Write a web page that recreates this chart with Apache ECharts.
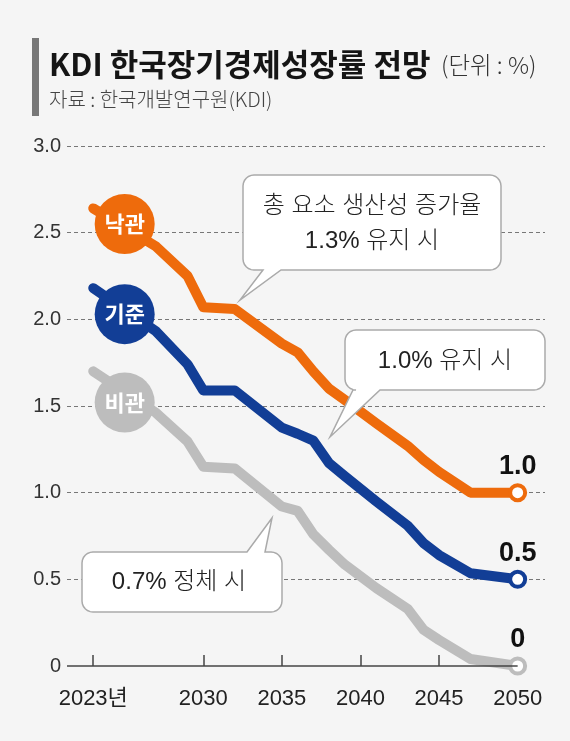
<!DOCTYPE html>
<html>
<head>
<meta charset="utf-8">
<script src="https://cdn.jsdelivr.net/npm/echarts@6/dist/echarts.min.js"></script>
<style>
html,body{margin:0;padding:0;background:#f5f5f5;}
#c{width:570px;height:741px;}
</style>
</head>
<body>
<div id="c"></div>
<script>
// ---- data ----
const years = [2023, 2027, 2029, 2030, 2032, 2035, 2036, 2037, 2038, 2039, 2041, 2043, 2044, 2045, 2047, 2050];
const optimistic  = [2.64, 2.42, 2.25, 2.07, 2.06, 1.86, 1.81, 1.70, 1.60, 1.535, 1.40, 1.27, 1.19, 1.12, 1.00, 1.00];
const baseline    = [2.18, 1.93, 1.74, 1.59, 1.59, 1.375, 1.34, 1.30, 1.17, 1.095, 0.95, 0.81, 0.71, 0.64, 0.535, 0.50];
const pessimistic = [1.70, 1.46, 1.295, 1.15, 1.14, 0.92, 0.895, 0.76, 0.67, 0.585, 0.45, 0.33, 0.21, 0.15, 0.04, 0.00];
const scenarioNames = ['낙관', '기준', '비관'];
const bubbleYear = 2025;
const bubbleValues = [2.55, 2.03, 1.52];
const endLabels = ['1.0', '0.5', '0'];
const xTickValues = [2023, 2030, 2035, 2040, 2045, 2050];
const xTickLabels = ['2023년', '2030', '2035', '2040', '2045', '2050'];
const yTickLabels = ['0', '0.5', '1.0', '1.5', '2.0', '2.5', '3.0'];
const titleText = 'KDI 한국장기경제성장률 전망';
const unitText = '(단위 : %)';
const sourceText = '자료 : 한국개발연구원(KDI)';
const calloutTexts = ['총 요소 생산성 증가율\n1.3% 유지 시', '1.0% 유지 시', '0.7% 정체 시'];

// ---- style ----
const colors = ['#EE6B0C', '#123E96', '#BDBDBD'];
const NARROW = "'Liberation Sans Narrow','Liberation Sans','Noto Sans CJK KR',sans-serif";
const CJK = "'Noto Sans CJK KR','Noto Sans',sans-serif";
const XMIN = 2021.33, XMAX = 2051.74;

function lineSeries(vals, idx) {
  const last = years.length - 1;
  return {
    type: 'line',
    z: 3,
    symbol: 'none',
    showSymbol: true,
    lineStyle: { width: 10, color: colors[idx], cap: 'round', join: 'round' },
    itemStyle: { color: colors[idx] },
    data: years.map((y, i) => i === last ? {
      value: [y, vals[i]],
      symbol: 'circle',
      symbolSize: 15,
      itemStyle: { color: '#fff', borderColor: colors[idx], borderWidth: 4 },
      label: {
        show: true, position: 'top', distance: 3,
        formatter: endLabels[idx],
        fontSize: 27, fontWeight: 'bold', color: '#111',
        fontFamily: "'Liberation Sans',sans-serif"
      }
    } : [y, vals[i]])
  };
}

// rounded box with a pointer tail, as polygon points
function corner(pts, cx, cy, r, a0, a1) {
  const n = 6;
  for (let k = 0; k <= n; k++) {
    const a = a0 + (a1 - a0) * k / n;
    pts.push([cx + r * Math.cos(a), cy + r * Math.sin(a)]);
  }
}
function calloutPoints(x0, y0, x1, y1, r, side, ta, tb, tx, ty) {
  const P = Math.PI, pts = [];
  corner(pts, x0 + r, y0 + r, r, P, 1.5 * P);
  if (side === 'top') { pts.push([ta, y0], [tx, ty], [tb, y0]); }
  corner(pts, x1 - r, y0 + r, r, 1.5 * P, 2 * P);
  corner(pts, x1 - r, y1 - r, r, 0, 0.5 * P);
  if (side === 'bottom') { pts.push([tb, y1], [tx, ty], [ta, y1]); }
  corner(pts, x0 + r, y1 - r, r, 0.5 * P, P);
  return pts;
}

const callouts = [
  { box: [243, 175, 501, 270], side: 'bottom', tail: [263, 281, 240, 300], text: [372, 224] },
  { box: [345, 330, 545, 390], side: 'bottom', tail: [353, 380, 330, 437], text: [445, 361] },
  { box: [82, 552, 282, 612], side: 'top', tail: [247, 265, 272, 518], text: [179, 582] }
];

const graphics = [
  { type: 'rect', shape: { x: 32, y: 38, width: 7, height: 78 }, style: { fill: '#777' } },
  { type: 'text', x: 49, y: 64, style: { text: titleText, fontSize: 31, fontWeight: 'bold', fontFamily: CJK, fill: '#151515', verticalAlign: 'middle', textVerticalAlign: 'middle' } },
  { type: 'text', x: 441, y: 65, style: { text: unitText, fontSize: 23.5, fontWeight: 300, fontFamily: CJK, fill: '#333', verticalAlign: 'middle', textVerticalAlign: 'middle' } },
  { type: 'text', x: 49, y: 99, style: { text: sourceText, fontSize: 20, fontWeight: 300, fontFamily: CJK, fill: '#444', verticalAlign: 'middle', textVerticalAlign: 'middle' } }
];
callouts.forEach((c, i) => {
  const [x0, y0, x1, y1] = c.box;
  graphics.push({
    type: 'polygon', z: 100,
    shape: { points: calloutPoints(x0, y0, x1, y1, 11, c.side, c.tail[0], c.tail[1], c.tail[2], c.tail[3]) },
    style: { fill: '#fff', stroke: '#aaa', lineWidth: 1.5 }
  });
  graphics.push({
    type: 'text', z: 101, x: c.text[0], y: c.text[1],
    style: {
      text: calloutTexts[i], fontSize: 24, fontWeight: 300, fontFamily: NARROW, fill: '#222',
      lineHeight: 35, align: 'center', textAlign: 'center', verticalAlign: 'middle', textVerticalAlign: 'middle'
    }
  });
});

const chart = echarts.init(document.getElementById('c'));
chart.setOption({
  backgroundColor: '#f5f5f5',
  animation: false,
  grid: { left: 67, right: 25, top: 146, bottom: 75 },
  xAxis: {
    type: 'value', min: XMIN, max: XMAX,
    axisLine: { show: false },
    splitLine: { show: false },
    axisTick: { show: true, inside: true, length: 11, customValues: xTickValues.slice(0, 5), lineStyle: { color: '#444', width: 1.5 } },
    axisLabel: {
      customValues: xTickValues, margin: 22,
      formatter: v => { const k = xTickValues.indexOf(Math.round(v)); return k >= 0 ? xTickLabels[k] : ''; },
      fontSize: 22, color: '#222', fontFamily: NARROW
    }
  },
  yAxis: {
    type: 'value', min: 0, max: 3, interval: 0.5,
    axisLine: { show: false },
    axisTick: { show: false },
    splitLine: { show: true, showMinLine: false, lineStyle: { color: '#777', width: 1, type: [4, 3] } },
    axisLabel: {
      margin: 6, fontSize: 20, color: '#333', fontFamily: NARROW,
      formatter: v => yTickLabels[Math.round(v / 0.5)]
    }
  },
  graphic: graphics,
  series: [
    {
      type: 'line', z: 1, data: [], silent: true,
      markLine: {
        silent: true, symbol: 'none', label: { show: false },
        lineStyle: { color: '#444', width: 1.5, type: 'solid' },
        data: [[{ coord: [XMIN, 0] }, { coord: [2050, 0] }]]
      }
    },
    lineSeries(pessimistic, 2),
    lineSeries(baseline, 1),
    lineSeries(optimistic, 0),
    {
      type: 'scatter', z: 10, symbolSize: 60,
      data: bubbleValues.map((v, i) => ({ value: [bubbleYear, v], itemStyle: { color: colors[i], opacity: 1 } })),
      label: {
        show: true, position: 'inside',
        formatter: p => scenarioNames[p.dataIndex],
        fontSize: 22, fontWeight: 'bold', color: '#fff', fontFamily: CJK
      }
    }
  ]
});
</script>
</body>
</html>
